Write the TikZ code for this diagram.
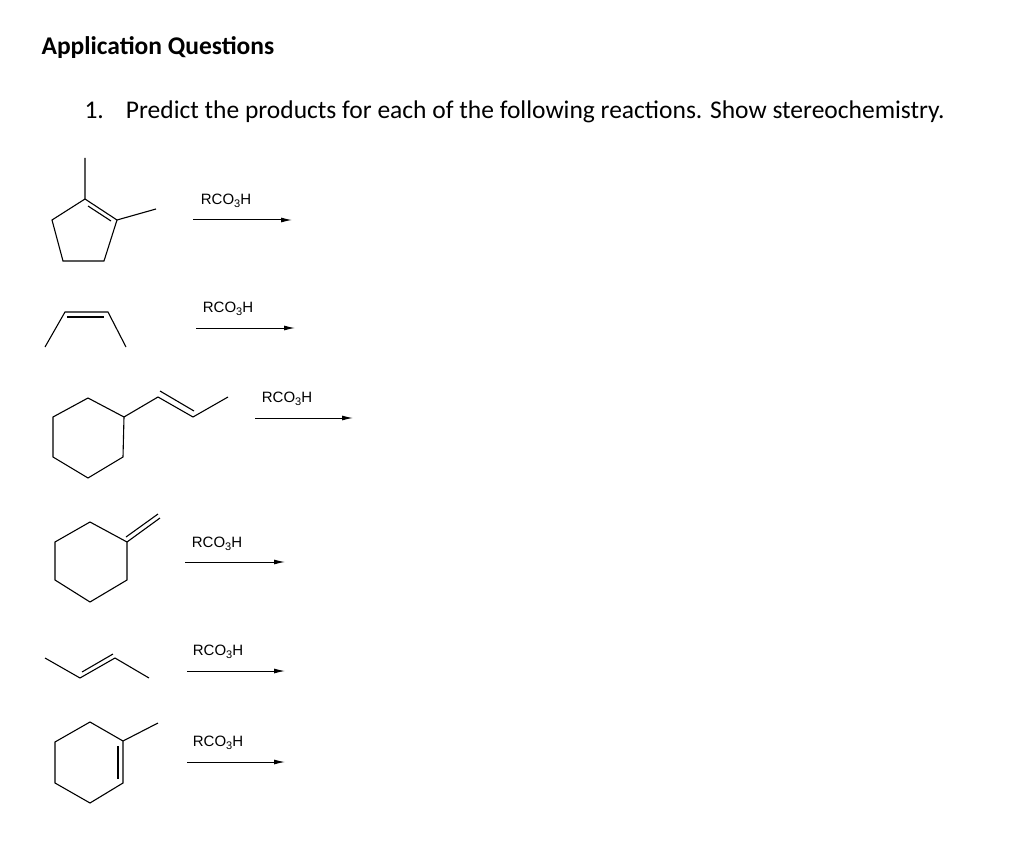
\documentclass[tikz,border=0pt]{standalone}
\usepackage{fontspec}
\setmainfont{Carlito}
\newfontfamily\helv{Liberation Sans}
\newcommand{\rcoh}{RCO\raisebox{-3.5pt}{\fontsize{11}{12}\selectfont 3}H}
\begin{document}
\begin{tikzpicture}[x=1pt,y=-1pt,line width=1.1pt,
 bond/.style={line width=1.1pt,line join=miter},
 rarrow/.style={-{Latex[length=11pt,width=5pt]},line width=1pt},
 lbl/.style={font=\helv\fontsize{15}{16}\selectfont,inner sep=0pt}]
\usetikzlibrary{arrows.meta}
\useasboundingbox (0,0) rectangle (1024,850);
\node[anchor=base west,inner sep=0pt,font=\bfseries\fontsize{25.5}{28}\selectfont] (title) at (41,55) {Application Questions};
\node[anchor=base west,inner sep=0pt,font=\fontsize{25.5}{28}\selectfont] (q1) at (84,119) {1.\hspace{22pt}Predict the products for each of the following reactions. Show stereochemistry.};
% mol 1
\draw[bond] (85,158)--(85,199)--(117,220)--(156,209);
\draw[bond] (85,199)--(52,220)--(63,261)--(104,261)--(117,220);
\draw[bond] (88,206)--(111,221);
\coordinate (a1s) at (193,220); \coordinate (a1e) at (292,220);
\draw[rarrow] (a1s)--(a1e);
\node[lbl] (l1) at (226,201) {\rcoh};
% mol 2
\draw[bond] (45,347)--(65,312)--(108,312)--(126,347);
\draw[bond] (67,317)--(104,317);
\coordinate (a2s) at (196,328); \coordinate (a2e) at (295,328);
\draw[rarrow] (a2s)--(a2e);
\node[lbl] (l2) at (228,309) {\rcoh};
% mol 3
\draw[bond] (88,398)--(124,417)--(123,457)--(88,478)--(53,457)--(53,417)--cycle;
\draw[bond] (124,417)--(158,397)--(193,417)--(228,397);
\draw[bond] (160,391)--(194,411);
\coordinate (a3s) at (255,418); \coordinate (a3e) at (353,418);
\draw[rarrow] (a3s)--(a3e);
\node[lbl] (l3) at (287,399) {\rcoh};
% mol 4
\draw[bond] (90,522)--(127,542)--(127,580)--(90,602)--(55,580)--(55,542)--cycle;
\draw[bond] (127,542)--(160,518);
\draw[bond] (126,537)--(158,514);
\coordinate (a4s) at (185,562); \coordinate (a4e) at (285,562);
\draw[rarrow] (a4s)--(a4e);
\node[lbl] (l4) at (217,544) {\rcoh};
% mol 5
\draw[bond] (45,658)--(80,678)--(115,658)--(149,678);
\draw[bond] (82,672)--(113,654);
\coordinate (a5s) at (187,671); \coordinate (a5e) at (285,671);
\draw[rarrow] (a5s)--(a5e);
\node[lbl] (l5) at (218,652) {\rcoh};
% mol 6
\draw[bond] (90,722)--(123,741)--(123,783)--(90,803)--(55,783)--(55,742)--cycle;
\draw[bond] (123,741)--(158,723);
\draw[bond] (118,746)--(118,779);
\coordinate (a6s) at (187,762); \coordinate (a6e) at (285,762);
\draw[rarrow] (a6s)--(a6e);
\node[lbl] (l6) at (218,743) {\rcoh};
\end{tikzpicture}
\end{document}
